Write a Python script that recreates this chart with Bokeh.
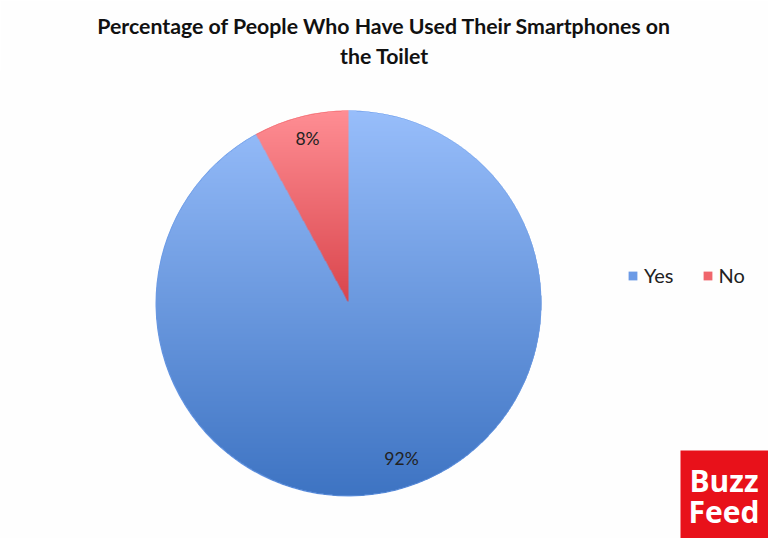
import numpy as np
from bokeh.plotting import figure
from bokeh.models import Range1d, Legend, LegendItem, Title
from bokeh.core.properties import value
from bokeh.embed import file_html
from bokeh.resources import INLINE

title_lines = ["Percentage of People Who Have Used Their Smartphones on", "the Toilet"]
categories = ["Yes", "No"]
values = [92, 8]
labels = ["92%", "8%"]
colors = ["#6b9ae6", "#f0666c"]
tops = [(0x98, 0xBE, 0xFB), (0xFF, 0x8E, 0x94)]
bottoms = [(0x3E, 0x74, 0xC3), (0xDA, 0x45, 0x4C)]
logo_words = ["Buzz", "Feed"]

CX, CY, R = 348.0, 235.0, 193.0
FONT = "Lato"

p = figure(frame_width=768, frame_height=468, width=768, height=538,
           x_range=Range1d(0, 768), y_range=Range1d(0, 468),
           output_backend="svg", toolbar_location=None,
           min_border_left=0, min_border_right=0, min_border_bottom=0, min_border_top=70)
p.axis.visible = False
p.grid.visible = False
p.outline_line_color = None
p.background_fill_color = "#fefefe"
p.border_fill_color = "#fefefe"

for line, gap in zip(reversed(title_lines), [4, 0]):
    p.add_layout(Title(text=line, align="center", text_font=FONT, text_font_style="bold",
                       text_font_size="21.3px", text_color="#111111", standoff=gap), "above")

# Slices run clockwise from twelve o'clock
fracs = np.array(values, dtype=float) / sum(values)
ends = np.pi / 2 - 2 * np.pi * np.cumsum(fracs)
starts = np.concatenate([[np.pi / 2], ends[:-1]])
pie = [p.wedge(x=CX, y=CY, radius=R, start_angle=ends[i], end_angle=starts[i],
               fill_color=colors[i], line_color=None) for i in range(len(values))]

# Vertical shading of each slice (raster overlay inside the crisp wedge edge)
S = 2
n = int(2 * R * S)
ys, xs = np.mgrid[0:n, 0:n]
dx = (xs + 0.5) / S - R
dy = (ys + 0.5) / S - R
rad = np.hypot(dx, dy)
clock = np.mod(np.arctan2(dx, dy), 2 * np.pi) / (2 * np.pi)
rgba = np.zeros((n, n, 4), dtype=np.uint8)
edges = np.concatenate([[0.0], np.cumsum(fracs)])
for i in range(len(values)):
    mask = (rad < R - 0.6) & (clock >= edges[i]) & (clock < edges[i + 1])
    top_y, bot_y = dy[mask].max(), dy[mask].min()
    t = (top_y - dy[mask]) / (top_y - bot_y)
    for c in range(3):
        rgba[..., c][mask] = (tops[i][c] + (bottoms[i][c] - tops[i][c]) * t).astype(np.uint8)
    rgba[..., 3][mask] = 255
img = rgba.view(dtype=np.uint32).reshape(n, n)
p.image_rgba(image=[img], x=CX - R, y=CY - R, dw=2 * R, dh=2 * R)

# Slice labels
p.text(x=[401, 307], y=[80, 400], text=labels, text_font=value(FONT), text_font_size="17.5px",
       text_align="center", text_baseline="middle", text_color="#222222")

# Logo
p.quad(left=[680], right=[768], bottom=[0], top=[88], fill_color="#e8111a", line_color=None)
p.text(x=[723.5, 723.5], y=[58, 27], text=logo_words, text_font=value("Open Sans"),
       text_font_style="bold", text_font_size="30px", text_align="center",
       text_baseline="middle", text_color="#ffffff")

legend = Legend(items=[LegendItem(label=categories[i], renderers=[pie[i]]) for i in range(2)],
                orientation="horizontal", location=(627, 251),
                glyph_width=11, glyph_height=11, label_text_font=FONT,
                label_text_font_size="20px", label_text_color="#222222",
                spacing=28, padding=4, margin=0, label_standoff=6,
                border_line_color=None, background_fill_alpha=0)
p.add_layout(legend)

open("out.html", "w").write(file_html(p, INLINE))
